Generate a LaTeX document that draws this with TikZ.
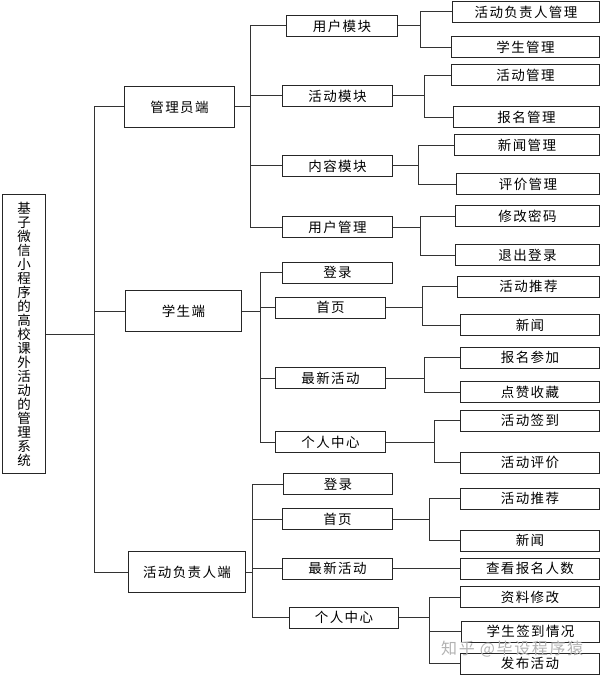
\documentclass[tikz,border=0pt]{standalone}
\usepackage{fontspec}
\setmainfont[LetterSpace=10]{Noto Sans CJK SC}
\usetikzlibrary{positioning}
\tikzset{
	blockbox/.style={draw=black!85, line width=1pt, fill=white, inner sep=0pt, font=\fontsize{13.5}{14}\selectfont, anchor=center},
	leafbox/.style={blockbox, anchor=west, minimum height=21pt},
	midbox/.style={blockbox, anchor=west, minimum width=110pt, minimum height=21pt},
	topbox/.style={blockbox, anchor=west, minimum height=41pt},
	link/.style={draw=black!80, line width=1pt}
}

\begin{document}
\begin{tikzpicture}[x=1pt, y=-1pt]
	\useasboundingbox (0,0) rectangle (601,676);
	% root
	\node[blockbox, anchor=north west, minimum width=43pt, minimum height=279pt, align=center] (root) at (2,194)
		{基\\子\\微\\信\\小\\程\\序\\的\\高\\校\\课\\外\\活\\动\\的\\管\\理\\系\\统};
	% three ends
	\node[topbox, minimum width=110pt] (admin) at (124,107) {管理员端};
	\node[topbox, minimum width=116pt] (student) at (125,311) {学生端};
	\node[topbox, minimum width=117pt] (owner) at (128,572) {活动负责人端};
	% admin modules
	\node[midbox, minimum width=111pt] (usermod) at (286,26) {用户模块};
	\node[midbox] (actmod) at (282,96) {活动模块};
	\node[midbox] (contmod) at (282,166) {内容模块};
	\node[midbox] (usermgr) at (282,227) {用户管理};
	% student modules
	\node[midbox] (stulogin) at (282,272.5) {登录};
	\node[midbox] (stuhome) at (275,307.5) {首页};
	\node[midbox] (stunew) at (275,378) {最新活动};
	\node[midbox] (stucen) at (275,442) {个人中心};
	% owner modules
	\node[midbox, minimum width=109pt] (ownlogin) at (283,484) {登录};
	\node[midbox] (ownhome) at (282,519) {首页};
	\node[midbox] (ownnew) at (282,568.5) {最新活动};
	\node[midbox, minimum width=109pt] (owncen) at (289,617.5) {个人中心};
	% leaves, admin
	\node[leafbox, minimum width=147pt] (lfa) at (452,12) {活动负责人管理};
	\node[leafbox, minimum width=148pt] (lfb) at (451,47.5) {学生管理};
	\node[leafbox, minimum width=148pt] (lfc) at (451,75.5) {活动管理};
	\node[leafbox, minimum width=146pt] (lfd) at (453,117.5) {报名管理};
	\node[leafbox, minimum width=145pt] (lfe) at (454,145.5) {新闻管理};
	\node[leafbox, minimum width=143pt] (lff) at (456,184.5) {评价管理};
	\node[leafbox, minimum width=144pt] (lfg) at (455,216) {修改密码};
	\node[leafbox, minimum width=144pt] (lfh) at (455,255) {退出登录};
	% leaves, student
	\node[leafbox, minimum width=142pt] (lfi) at (457,286.5) {活动推荐};
	\node[leafbox, minimum width=139pt] (lfj) at (460,325) {新闻};
	\node[leafbox, minimum width=139pt] (lfk) at (460,357.5) {报名参加};
	\node[leafbox, minimum width=139pt] (lfl) at (460,392) {点赞收藏};
	\node[leafbox, minimum width=139pt] (lfm) at (460,420.5) {活动签到};
	\node[leafbox, minimum width=139pt] (lfn) at (460,462.5) {活动评价};
	% leaves, owner
	\node[leafbox, minimum width=139pt] (lfo) at (460,498.5) {活动推荐};
	\node[leafbox, minimum width=139pt] (lfp) at (460,540.5) {新闻};
	\node[leafbox, minimum width=139pt] (lfq) at (460,568.5) {查看报名人数};
	\node[leafbox, minimum width=139pt] (lfr) at (460,597) {资料修改};
	\node[leafbox, minimum width=138pt] (lfs) at (461,631.5) {学生签到情况};
	\node[leafbox, minimum width=139pt] (lft) at (460,663.5) {发布活动};
	% bus points
	\coordinate (busroot) at (94,334);
	\coordinate (busadmin) at (250,107);
	\coordinate (busstudent) at (260,311);
	\coordinate (busowner) at (252,572);
	\coordinate (busa) at (420,26);
	\coordinate (busb) at (424,96);
	\coordinate (busc) at (418,166);
	\coordinate (busd) at (420,227);
	\coordinate (buse) at (422,307.5);
	\coordinate (busf) at (424,378);
	\coordinate (busg) at (434,442);
	\coordinate (bush) at (429,519);
	\coordinate (busi) at (429,617.5);
	% root to ends
	\draw[link] (root.east |- busroot) -- (busroot);
	\draw[link] (busroot) |- (admin.west);
	\draw[link] (busroot) |- (student.west);
	\draw[link] (busroot) |- (owner.west);
	% ends to modules
	\draw[link] (admin.east) -- (busadmin);
	\draw[link] (busadmin) |- (usermod.west);
	\draw[link] (busadmin) |- (actmod.west);
	\draw[link] (busadmin) |- (contmod.west);
	\draw[link] (busadmin) |- (usermgr.west);
	\draw[link] (student.east) -- (busstudent);
	\draw[link] (busstudent) |- (stulogin.west);
	\draw[link] (busstudent) |- (stuhome.west);
	\draw[link] (busstudent) |- (stunew.west);
	\draw[link] (busstudent) |- (stucen.west);
	\draw[link] (owner.east) -- (busowner);
	\draw[link] (busowner) |- (ownlogin.west);
	\draw[link] (busowner) |- (ownhome.west);
	\draw[link] (busowner) |- (ownnew.west);
	\draw[link] (busowner) |- (owncen.west);
	% modules to leaves
	\draw[link] (usermod.east) -- (busa);
	\draw[link] (busa) |- (lfa.west);
	\draw[link] (busa) |- (lfb.west);
	\draw[link] (actmod.east) -- (busb);
	\draw[link] (busb) |- (lfc.west);
	\draw[link] (busb) |- (lfd.west);
	\draw[link] (contmod.east) -- (busc);
	\draw[link] (busc) |- (lfe.west);
	\draw[link] (busc) |- (lff.west);
	\draw[link] (usermgr.east) -- (busd);
	\draw[link] (busd) |- (lfg.west);
	\draw[link] (busd) |- (lfh.west);
	\draw[link] (stuhome.east) -- (buse);
	\draw[link] (buse) |- (lfi.west);
	\draw[link] (buse) |- (lfj.west);
	\draw[link] (stunew.east) -- (busf);
	\draw[link] (busf) |- (lfk.west);
	\draw[link] (busf) |- (lfl.west);
	\draw[link] (stucen.east) -- (busg);
	\draw[link] (busg) |- (lfm.west);
	\draw[link] (busg) |- (lfn.west);
	\draw[link] (ownhome.east) -- (bush);
	\draw[link] (bush) |- (lfo.west);
	\draw[link] (bush) |- (lfp.west);
	\draw[link] (ownnew.east) -- (lfq.west);
	\draw[link] (owncen.east) -- (busi);
	\draw[link] (busi) |- (lfr.west);
	\draw[link] (busi) |- (lfs.west);
	\draw[link] (busi) |- (lft.west);
	% watermark
	\node[text=black!30, inner sep=0pt, font=\fontsize{16}{17}\selectfont, anchor=west] (mark) at (441,649) {知乎 @毕设程序猿};
\end{tikzpicture}
\end{document}
